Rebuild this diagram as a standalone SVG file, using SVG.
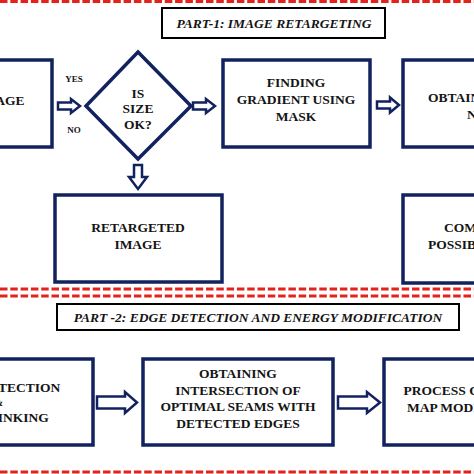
<svg xmlns="http://www.w3.org/2000/svg" width="474" height="474" viewBox="0 0 474 474">
<defs>
<style>
.box{fill:#fff;stroke:#12225f;stroke-width:3.5}
.arr{fill:#fff;stroke:#12225f;stroke-width:2.5;stroke-linejoin:miter}
.lbl{fill:#fff;stroke:#000;stroke-width:2}
.t{font-family:"Liberation Serif","Times New Roman",serif;font-weight:bold;font-size:13.5px;fill:#141414;text-anchor:middle}
.ti{font-family:"Liberation Serif","Times New Roman",serif;font-weight:bold;font-style:italic;font-size:13.5px;fill:#141414;text-anchor:middle}
.s{font-family:"Liberation Serif","Times New Roman",serif;font-weight:bold;font-size:9px;fill:#141414;text-anchor:middle}
.dash{stroke:#e3231b;stroke-width:3;stroke-dasharray:7.5 2.8;fill:none}
</style>
</defs>
<rect width="474" height="474" fill="#fff"/>
<g id="separators">
<line class="dash" x1="0" y1="1.5" x2="474" y2="1.5"/>
<line class="dash" x1="0" y1="289" x2="474" y2="289"/>
<line class="dash" x1="0" y1="296" x2="474" y2="296"/>
<line class="dash" x1="0" y1="472" x2="474" y2="472"/>
</g>
<g id="part1-label">
<rect class="lbl" x="162" y="8" width="223" height="30"/>
<text class="ti" x="274" y="28">PART-1: IMAGE RETARGETING</text>
</g>
<g id="part2-label">
<rect class="lbl" x="57" y="304" width="402" height="26"/>
<text class="ti" x="258" y="322">PART -2: EDGE DETECTION AND ENERGY MODIFICATION</text>
</g>
<g id="n-input">
<rect class="box" x="-50" y="60" width="102" height="87"/>
<text class="t" x="1" y="105">IMAGE</text>
</g>
<g id="n-size">
<polygon class="box" points="138,52 191,106 138,159 86,106" stroke-width="3"/>
<text class="t" x="138" y="98">IS</text>
<text class="t" x="138" y="113">SIZE</text>
<text class="t" x="138" y="129">OK?</text>
</g>
<g id="n-gradient">
<rect class="box" x="223" y="60" width="147" height="87"/>
<text class="t" x="296" y="87">FINDING</text>
<text class="t" x="296" y="104">GRADIENT USING</text>
<text class="t" x="296" y="121">MASK</text>
</g>
<g id="n-obtain">
<rect class="box" x="403" y="60" width="147" height="87"/>
<text class="t" x="428" y="102" style="text-anchor:start">OBTAINING</text>
<text class="t" x="467" y="119" style="text-anchor:start">N</text>
</g>
<g id="n-retargeted">
<rect class="box" x="55" y="195" width="167" height="87"/>
<text class="t" x="138" y="232">RETARGETED</text>
<text class="t" x="138" y="249">IMAGE</text>
</g>
<g id="n-compute">
<rect class="box" x="403" y="195" width="147" height="88"/>
<text class="t" x="444" y="232" style="text-anchor:start">COMPUTE</text>
<text class="t" x="428" y="249" style="text-anchor:start">POSSIBLE SEAMS</text>
</g>
<g id="n-edge">
<rect class="box" x="-80" y="359" width="173" height="86"/>
<text class="t" x="-1" y="392">EDGE DETECTION</text>
<text class="t" x="-1" y="406" style="font-size:10px">&amp;</text>
<text class="t" x="-2" y="422">EDGE LINKING</text>
</g>
<g id="n-intersection">
<rect class="box" x="143" y="359" width="190" height="86"/>
<text class="t" x="238" y="378">OBTAINING</text>
<text class="t" x="238" y="395">INTERSECTION OF</text>
<text class="t" x="238" y="411">OPTIMAL SEAMS WITH</text>
<text class="t" x="238" y="428">DETECTED EDGES</text>
</g>
<g id="n-process">
<rect class="box" x="384" y="359" width="190" height="86"/>
<text class="t" x="476" y="395">PROCESS OF ENERGY</text>
<text class="t" x="476" y="412">MAP MODIFICATION</text>
</g>
<g id="connectors">
<path class="arr" d="M58,102.5 H71 V99 L80,106 L71,113 V109.5 H58 Z"/>
<path class="arr" d="M193,102.5 H206 V99 L215,106 L206,113 V109.5 H193 Z"/>
<path class="arr" d="M377,101.5 H390 V97.5 L399,105 L390,112.5 V108.5 H377 Z"/>
<path class="arr" d="M134,165 H142 V177 H147 L138,189 L129,177 H134 Z"/>
<path class="arr" d="M97,396.5 H125 V392 L137,402.5 L125,413 V408.5 H97 Z"/>
<path class="arr" d="M338,396.5 H367 V392 L380,402.5 L367,413 V408.5 H338 Z"/>
<text class="s" x="74" y="82">YES</text>
<text class="s" x="74" y="133">NO</text>
</g>
</svg>
